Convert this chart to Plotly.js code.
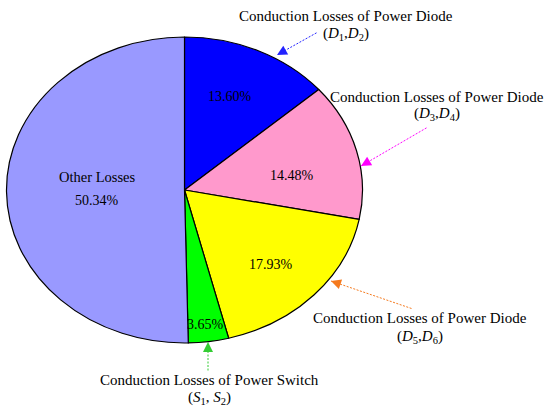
<!DOCTYPE html>
<html>
<head>
<meta charset="utf-8">
<script src="https://cdn.plot.ly/plotly-3.0.1.min.js"></script>
<style>html,body{margin:0;padding:0;background:#fff;}#chart{width:550px;height:409px;}</style>
</head>
<body>
<div id="chart"></div>
<script>
// ---- data ----
const categories = ['Diode D1,D2', 'Diode D3,D4', 'Diode D5,D6', 'Switch S1,S2', 'Other Losses'];
const values = [13.60, 14.48, 17.93, 3.65, 50.34];
const sliceColors = ['#0000FF', '#FF99CC', '#FFFF00', '#00FF00', '#9999FF'];
const calloutTitles = [
  'Conduction Losses of Power Diode',
  'Conduction Losses of Power Diode',
  'Conduction Losses of Power Diode',
  'Conduction Losses of Power Switch'
];
const calloutSubs = [
  '(<i>D</i><sub>1</sub>,<i>D</i><sub>2</sub>)',
  '(<i>D</i><sub>3</sub>,<i>D</i><sub>4</sub>)',
  '(<i>D</i><sub>5</sub>,<i>D</i><sub>6</sub>)',
  '(<i>S</i><sub>1</sub>, <i>S</i><sub>2</sub>)'
];
const otherName = 'Other Losses';

// ---- layout helpers (positions / styles) ----
const W = 550, H = 409;
const dom = {x: [31.5 / W, 337.5 / W], y: [66 / H, 372 / H]};
const SX = 178 / 153; // horizontal stretch of the pie (ellipse)
const radFrac = [0.66, 0.61, 0.69, 0.89, 0.49];
const angNudge = [-1.7, 5.8, 1.6, 0, 1.6];
const arrowColors = ['#2222FF', '#FF00FF', '#F57A1E', '#33CC33'];
// [centre x, first line y, second line y] in pixels
const calloutPos = [[346, 16, 34], [437, 97, 114], [419.5, 318, 337], [209, 380, 398]];
const arrowHead = [[277, 55], [361, 166], [331, 281], [208, 342]];
const arrowTail = [[318, 32], [428, 127], [413, 309], [208, 372]];
const FONT = 'Liberation Serif, Times New Roman, serif';

const px2x = p => p / W;
const py2y = p => 1 - p / H;

const total = values.reduce((a, b) => a + b, 0);
const cxp = (dom.x[0] + dom.x[1]) / 2 * W;
const cyp = (1 - (dom.y[0] + dom.y[1]) / 2) * H;
const R = Math.min((dom.x[1] - dom.x[0]) * W, (dom.y[1] - dom.y[0]) * H) / 2;

const annotations = [];
let cum = 0;
values.forEach((v, i) => {
  const mid = ((cum + v / 2) / total * 360 + angNudge[i]) * Math.PI / 180;
  cum += v;
  const r = R * radFrac[i];
  const px = cxp + SX * r * Math.sin(mid);
  const py = cyp - r * Math.cos(mid);
  const pct = (v / total * 100).toFixed(2) + '%';
  if (categories[i] === otherName) {
    annotations.push({x: px2x(px), y: py2y(py), xref: 'paper', yref: 'paper', text: otherName,
      showarrow: false, xanchor: 'center', yanchor: 'middle', yshift: 11.5,
      font: {family: FONT, size: 14.5, color: '#000'}});
    annotations.push({x: px2x(px), y: py2y(py), xref: 'paper', yref: 'paper', text: pct,
      showarrow: false, xanchor: 'center', yanchor: 'middle', yshift: -11.5,
      font: {family: FONT, size: 14, color: '#000'}});
  } else {
    annotations.push({x: px2x(px), y: py2y(py), xref: 'paper', yref: 'paper', text: pct,
      showarrow: false, xanchor: 'center', yanchor: 'middle',
      font: {family: FONT, size: 14, color: '#000'}});
  }
});

calloutTitles.forEach((t, i) => {
  annotations.push({x: px2x(calloutPos[i][0]), y: py2y(calloutPos[i][1]), xref: 'paper', yref: 'paper',
    text: t, showarrow: false, xanchor: 'center', yanchor: 'middle',
    font: {family: FONT, size: 15, color: '#000'}});
  annotations.push({x: px2x(calloutPos[i][0]), y: py2y(calloutPos[i][2]), xref: 'paper', yref: 'paper',
    text: calloutSubs[i], showarrow: false, xanchor: 'center', yanchor: 'middle',
    font: {family: FONT, size: 15, color: '#000'}});
  annotations.push({x: px2x(arrowHead[i][0]), y: py2y(arrowHead[i][1]), xref: 'paper', yref: 'paper',
    text: '', showarrow: true, arrowhead: 2, arrowsize: 2, arrowwidth: 1,
    arrowcolor: arrowColors[i], axref: 'pixel', ayref: 'pixel',
    ax: arrowTail[i][0] - arrowHead[i][0], ay: arrowTail[i][1] - arrowHead[i][1]});
});

const trace = {
  type: 'pie',
  labels: categories,
  values: values,
  sort: false,
  direction: 'clockwise',
  rotation: 0,
  textinfo: 'none',
  textposition: 'none',
  hoverinfo: 'skip',
  marker: {colors: sliceColors, line: {color: '#000', width: 1.2}},
  domain: dom,
  showlegend: false
};

const layout = {
  width: W, height: H,
  margin: {l: 0, r: 0, t: 0, b: 0},
  paper_bgcolor: '#fff',
  showlegend: false,
  annotations: annotations
};

Plotly.newPlot('chart', [trace], layout, {displayModeBar: false, staticPlot: true}).then(gd => {
  // stretch the pie horizontally into an ellipse
  const paths = gd.querySelectorAll('.pielayer path.surface');
  let x0 = Infinity, x1 = -Infinity, y0 = Infinity, y1 = -Infinity;
  paths.forEach(p => {
    const b = p.getBBox();
    x0 = Math.min(x0, b.x); x1 = Math.max(x1, b.x + b.width);
    y0 = Math.min(y0, b.y); y1 = Math.max(y1, b.y + b.height);
  });
  const cx = (x0 + x1) / 2, cy = (y0 + y1) / 2;
  paths.forEach(p => {
    p.setAttribute('transform', `translate(${cx},${cy}) scale(${SX},1) translate(${-cx},${-cy})`);
    p.setAttribute('vector-effect', 'non-scaling-stroke');
  });
  // dotted callout arrows
  gd.querySelectorAll('.annotation-arrow-g').forEach(g => {
    const line = g.querySelector('path');
    if (line) line.style.strokeDasharray = '2,1.5';
  });
  // drop empty text nodes left by arrow-only annotations
  gd.querySelectorAll('svg text').forEach(t => {
    if (!t.textContent.trim()) t.remove();
  });
});
</script>
</body>
</html>
